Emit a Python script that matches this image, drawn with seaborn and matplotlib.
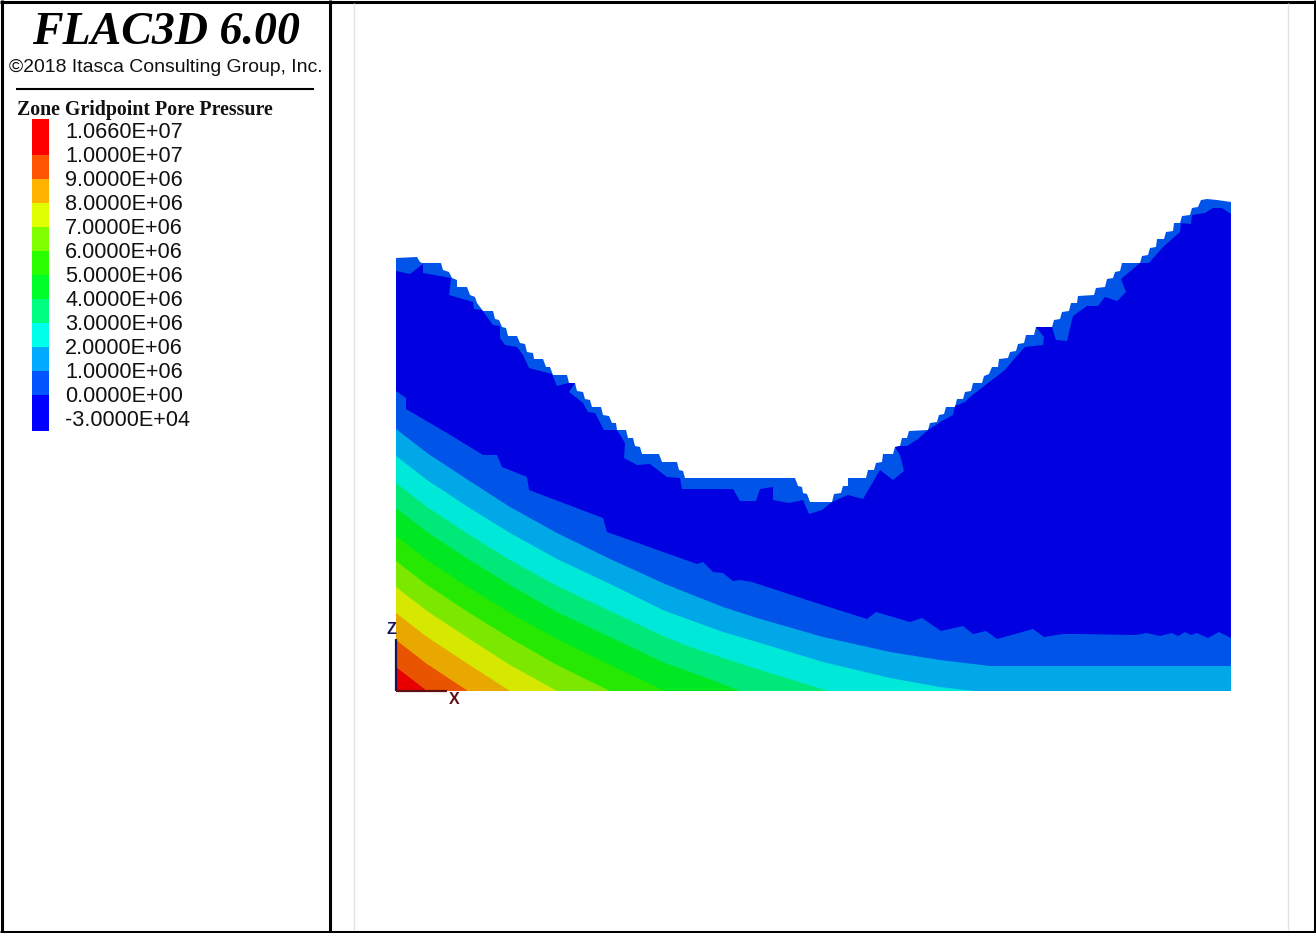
import numpy as np
import matplotlib
matplotlib.use("Agg")
import matplotlib.pyplot as plt
import seaborn as sns

sns.set_theme(style="white")

# ---- legend content ----
title = "FLAC3D 6.00"
copyright_line = "\u00a92018 Itasca Consulting Group, Inc."
legend_title = "Zone Gridpoint Pore Pressure"
levels = ["1.0660E+07", "1.0000E+07", "9.0000E+06", "8.0000E+06", "7.0000E+06",
          "6.0000E+06", "5.0000E+06", "4.0000E+06", "3.0000E+06", "2.0000E+06",
          "1.0000E+06", "0.0000E+00", "-3.0000E+04"]
legend_colors = ["#ff0000", "#ff5500", "#ffb300", "#e0ff00", "#80ff00", "#2aff00",
                 "#00ff2a", "#00ff80", "#00ffea", "#00aaff", "#0055ff", "#0000ff"]
legend_spans = [3, 2, 2, 2, 2, 2, 2, 2, 2, 2, 2, 3]
# shaded colours inside the model, same order
zone_colors = ["#e80000", "#e85400", "#e8a800", "#d6e800", "#7ce800", "#26e800",
               "#00e824", "#00e878", "#00e8d8", "#00a8e8", "#0055e8", "#0000e0"]

# ---- contours (distance along the section, elevation) ----
surface_x = [0, 21, 24, 26, 45, 47, 53, 56, 61, 61, 71, 74, 79, 81, 87, 97, 99, 103, 106, 110,
             112, 121, 124, 129, 131, 137, 138, 147, 150, 154, 157, 171, 173, 179, 181, 187,
             189, 194, 196, 205, 207, 213, 216, 220, 221, 230, 232, 237, 239, 244, 246, 263,
             266, 281, 283, 287, 289, 399, 402, 406, 407, 411, 414, 436, 438, 445, 447, 452,
             452, 470, 472, 478, 480, 486, 487, 497, 499, 504, 506, 511, 513, 532, 534, 541,
             543, 548, 550, 559, 561, 567, 569, 575, 577, 586, 588, 593, 596, 602, 603, 612,
             614, 620, 622, 628, 630, 638, 640, 656, 658, 664, 666, 673, 675, 681, 682, 698,
             700, 709, 711, 717, 719, 724, 726, 744, 746, 752, 754, 760, 761, 768, 770, 777,
             778, 784, 786, 794, 796, 802, 805, 811, 821, 835]
surface_z = [433, 434, 429, 428, 428, 421, 419, 413, 411, 404, 404, 396, 394, 388, 380, 380, 372, 371, 364, 363,
             355, 355, 348, 347, 339, 338, 332, 332, 324, 324, 316, 316, 308, 308, 300, 299,
             292, 291, 284, 284, 276, 275, 268, 268, 261, 261, 253, 253, 245, 244, 237, 237,
             229, 229, 221, 220, 213, 213, 205, 204, 198, 197, 189, 189, 197, 198, 205, 205,
             213, 213, 221, 221, 228, 229, 237, 237, 244, 245, 253, 253, 260, 261, 268, 269,
             276, 277, 284, 284, 292, 292, 299, 300, 308, 308, 315, 317, 324, 324, 332, 333,
             339, 340, 347, 348, 356, 356, 364, 364, 371, 372, 379, 380, 388, 388, 395, 396,
             403, 404, 412, 413, 419, 420, 428, 428, 435, 436, 443, 444, 452, 452, 459, 460,
             468, 468, 475, 476, 483, 484, 491, 492, 491, 489]

dark_top_x = [0, 14, 27, 27, 44, 55, 53, 77, 78, 86, 97, 104, 104, 109, 121, 127, 133, 156, 161, 172,
              179, 173, 187, 192, 199, 208, 221, 229, 228, 241, 254, 271, 284, 286, 337, 344, 360,
              364, 377, 377, 393, 407, 413, 426, 436, 452, 467, 484, 497, 508, 504, 499, 504, 511,
              522, 532, 546, 557, 559, 569, 574, 592, 609, 619, 629, 647, 648, 640, 656, 660, 671,
              677, 691, 702, 709, 721, 730, 725, 744, 753, 767, 784, 785, 795, 796, 809, 817, 826, 835]
dark_top_z = [420, 417, 427, 418, 415, 413, 396, 389, 382, 381, 366, 365, 353, 346, 344, 336, 323, 317, 305, 308,
              308, 299, 288, 279, 278, 261, 261, 248, 233, 226, 227, 214, 213, 202, 202, 190, 190,
              202, 204, 191, 188, 191, 177, 181, 189, 196, 192, 221, 211, 220, 236, 244, 245, 245,
              252, 261, 270, 276, 285, 289, 294, 308, 321, 333, 344, 346, 354, 364, 364, 351, 350,
              375, 385, 385, 394, 390, 399, 412, 428, 428, 444, 459, 468, 467, 476, 478, 483, 483, 477]

dark_bot_x = [0, 10, 10, 51, 87, 101, 106, 131, 133, 207, 211, 301, 307, 317, 327, 337, 344, 356,
              411, 471, 480, 514, 526, 545, 567, 577, 590, 601, 637, 648, 667, 684, 739, 751, 764,
              776, 782, 789, 795, 801, 812, 823, 835]
dark_bot_z = [300, 293, 282, 258, 236, 236, 224, 214, 201, 173, 159, 127, 129, 119, 118, 110, 111, 109,
              91, 72, 79, 69, 73, 60, 65, 57, 60, 52, 62, 54, 57, 57, 56, 58, 55,
              58, 55, 59, 56, 58, 53, 59, 53]

c1_x = [0, 31, 72, 114, 161, 214, 269, 294, 327, 361, 427, 494, 544, 594, 835, 835]
c1_z = [262, 238, 211, 184, 158, 132, 107, 97, 84, 73, 54, 39, 31, 25, 25, 0]
c2_x = [0, 31, 72, 114, 161, 214, 269, 294, 327, 361, 427, 494, 544, 579]
c2_z = [235, 211, 184, 158, 132, 107, 80, 71, 59, 49, 29, 13, 4, 0]
c3_x = [0, 31, 72, 114, 161, 214, 269, 294, 327, 361, 432]
c3_z = [208, 184, 157, 131, 105, 80, 54, 44, 33, 22, 0]
c4_x = [0, 31, 72, 114, 161, 214, 269, 294, 311, 344]
c4_z = [183, 159, 132, 106, 79, 54, 28, 19, 13, 0]
c5_x = [0, 31, 72, 114, 161, 214, 269]
c5_z = [155, 131, 104, 78, 52, 26, 0]
c6_x = [0, 31, 72, 114, 161, 214]
c6_z = [130, 106, 79, 53, 26, 0]
c7_x = [0, 31, 72, 114, 161]
c7_z = [104, 80, 53, 26, 0]
c8_x = [0, 31, 72, 114]
c8_z = [78, 54, 27, 0]
c9_x = [0, 31, 72]
c9_z = [51, 27, 0]
c10_x = [0, 31]
c10_z = [24, 0]

W, H = 1316, 933
fig = plt.figure(figsize=(W / 100, H / 100), dpi=100, facecolor="white")

# full-figure panel for frame and captions, in picture units
panel = fig.add_axes([0, 0, 1, 1])
panel.set_xlim(0, W)
panel.set_ylim(H, 0)
panel.axis("off")

# model section
ax = fig.add_axes([396 / W, (H - 691) / H, 835 / W, 492 / H])
ax.set_xlim(0, 835)
ax.set_ylim(0, 492)
ax.axis("off")
palette = sns.color_palette(zone_colors)

ax.fill(surface_x + [835, 0], surface_z + [0, 0], color=palette[10], lw=0)
ax.fill(dark_top_x + dark_bot_x[::-1], dark_top_z + dark_bot_z[::-1], color=palette[11], lw=0)
bands = [(c1_x, c1_z, 9), (c2_x, c2_z, 8), (c3_x, c3_z, 7), (c4_x, c4_z, 6), (c5_x, c5_z, 5),
         (c6_x, c6_z, 4), (c7_x, c7_z, 3), (c8_x, c8_z, 2), (c9_x, c9_z, 1), (c10_x, c10_z, 0)]
for bx, bz, ci in bands:
    ax.fill(bx + [0], bz + [0], color=palette[ci], lw=0)

# axis triad
navy, maroon = "#14145c", "#5c1014"
ax.plot([0, 0], [0, 52], color=navy, lw=1.6, clip_on=False, solid_capstyle="butt")
ax.plot([0, 51], [0, 0], color=maroon, lw=1.6, clip_on=False, solid_capstyle="butt")
ax.text(-5, 61, "Z", color=navy, fontsize=11.5, fontweight="bold", family="Liberation Sans",
        ha="center", va="center", clip_on=False)
ax.text(58, -9, "X", color=maroon, fontsize=11.5, fontweight="bold", family="Liberation Sans",
        ha="center", va="center", clip_on=False)

# frame
for xs, ys, lw, col in [([1.5, 1.5], [0, H], 2.2, "black"), ([0, W], [1.5, 1.5], 2.2, "black"),
                        ([0, W], [931.5, 931.5], 2.2, "black"), ([1314.5, 1314.5], [0, H], 2.2, "black"),
                        ([329.5, 329.5], [0, H], 2.2, "black"), ([16, 314], [89, 89], 1.5, "black"),
                        ([354, 354], [3, 930], 1.0, "#e2e2e2"), ([1288, 1288], [3, 930], 1.0, "#e2e2e2")]:
    panel.plot(xs, ys, color=col, lw=lw, solid_capstyle="butt")

panel.text(166, 33, title, family="Liberation Serif", style="italic", fontweight="bold",
           fontsize=33, ha="center", va="center", color="black")
panel.text(165.5, 67, copyright_line, family="Liberation Sans", fontsize=13.95,
           ha="center", va="center", color="#111111")
panel.text(17, 110.5, legend_title, family="Liberation Serif", fontweight="bold",
           fontsize=14.3, ha="left", va="center", color="#111111")
for i, lab in enumerate(levels):
    panel.text(65, 133 + 24 * i, lab, family="Liberation Sans", fontsize=15.55,
               ha="left", va="center", color="#111111")

# colour key as a one-column heatmap
swatch = fig.add_axes([32 / W, (H - 431) / H, 17 / W, 312 / H])
rows = np.repeat(np.arange(len(legend_colors)), legend_spans).reshape(-1, 1)
sns.heatmap(rows, ax=swatch, cmap=sns.color_palette(legend_colors), cbar=False,
            xticklabels=False, yticklabels=False, linewidths=0)

fig.savefig("out.png", dpi=100, facecolor="white")
